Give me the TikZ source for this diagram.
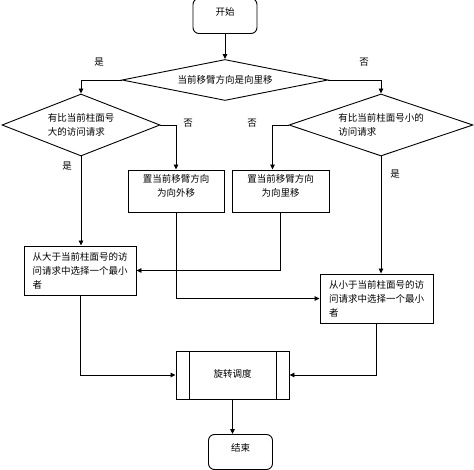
\documentclass[tikz,border=0pt]{standalone}
\usepackage{fontspec}
\newfontfamily\cjk{Noto Sans CJK SC}
\usetikzlibrary{shapes.geometric,arrows.meta}

\begin{document}
\begin{tikzpicture}[x=1pt,y=-1pt,line width=0.9pt,
    every node/.style={font=\cjk\fontsize{9.5}{14}\selectfont},
    term/.style={draw,rounded corners=6pt,minimum width=64pt,minimum height=35pt,text depth=8pt},
    decide/.style={draw,diamond,inner sep=0pt,align=left},
    proc/.style={draw,rectangle,align=left},
    arr/.style={-{Triangle[length=5pt,width=4.5pt]}},
    lbl/.style={inner sep=1pt}]
    \useasboundingbox (0,0) rectangle (474,470);

    % Terminals
    \node[term] (start) at (225,16) {开始};
    \node[term] (stop) at (240.5,452) {结束};

    % Decisions
    \node[decide,aspect=5,minimum width=206pt,minimum height=41pt] (d1) at (225,80) {当前移臂方向是向里移};
    \node[decide,aspect=2.55,minimum width=158pt,minimum height=62pt] (d2) at (81,125) {有比当前柱面号\\大的访问请求};
    \node[decide,aspect=3,minimum width=184pt,minimum height=62pt] (d3) at (381,125) {有比当前柱面号小的\\访问请求};

    % Direction boxes
    \node[proc,align=center,minimum width=96pt,minimum height=42pt,text depth=12pt] (out) at (176,191) {置当前移臂方向\\为向外移};
    \node[proc,align=center,minimum width=97pt,minimum height=42pt,text depth=12pt] (in) at (280.5,191) {置当前移臂方向\\为向里移};

    % Selection boxes
    \node[proc,minimum width=112pt,minimum height=49pt] (bigger) at (80,270.5) {从大于当前柱面号的访\\问请求中选择一个最小\\者};
    \node[proc,minimum width=113pt,minimum height=49pt] (smaller) at (376.5,298.5) {从小于当前柱面号的访\\问请求中选择一个最小\\者};

    % Rotation scheduling
    \node[draw,minimum width=113pt,minimum height=48pt,text depth=4pt] (rot) at (232.5,375) {旋转调度};
    \draw ([xshift=14pt]rot.north west) -- ([xshift=14pt]rot.south west);
    \draw ([xshift=-13pt]rot.north east) -- ([xshift=-13pt]rot.south east);

    % Branch labels
    \node[lbl] (yes1) at (99,62) {是};
    \node[lbl] (no1) at (364,62) {否};
    \node[lbl] (no2) at (188,123) {否};
    \node[lbl] (yes2) at (67,166) {是};
    \node[lbl] (no3) at (252,123) {否};
    \node[lbl] (yes3) at (395,174) {是};

    % Connectors
    \draw[arr] (d1.north |- start.south) -- (d1.north);
    \draw[arr] (d1.west) -| (d2.north);
    \draw[arr] (d1.east) -| (d3.north);
    \draw[arr] (d2.east) -| (out.north);
    \draw[arr] (d3.west) -| ([xshift=-8pt]in.north);
    \draw[arr] (d2.south) -- (d2.south |- bigger.north);
    \draw[arr] (d3.south) -- (d3.south |- smaller.north);
    \draw[arr] (in.south) |- (bigger.east);
    \draw[arr] (out.south) |- (smaller.west);
    \draw[arr] (bigger.south) |- (rot.west);
    \draw[arr] (smaller.south) |- (rot.east);
    \draw[arr] (rot.south) -- (rot.south |- stop.north);
\end{tikzpicture}
\end{document}
